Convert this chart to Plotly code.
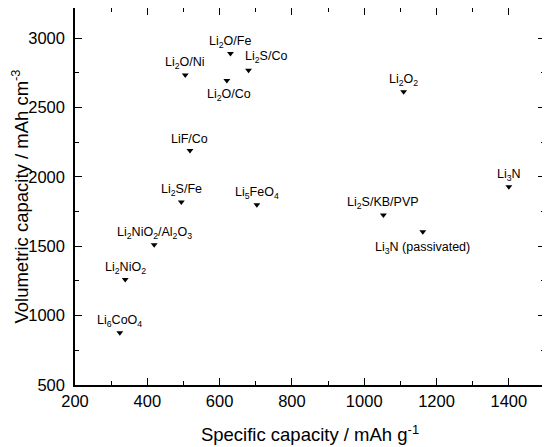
import plotly.graph_objects as go

# materials: specific capacity (mAh/g) vs volumetric capacity (mAh/cm3)
names = ['Li<sub>2</sub>O/Fe', 'Li<sub>2</sub>S/Co', 'Li<sub>2</sub>O/Ni', 'Li<sub>2</sub>O/Co',
         'LiF/Co', 'Li<sub>2</sub>S/Fe', 'Li<sub>5</sub>FeO<sub>4</sub>',
         'Li<sub>2</sub>NiO<sub>2</sub>/Al<sub>2</sub>O<sub>3</sub>', 'Li<sub>2</sub>NiO<sub>2</sub>',
         'Li<sub>6</sub>CoO<sub>4</sub>', 'Li<sub>2</sub>O<sub>2</sub>', 'Li<sub>3</sub>N',
         'Li<sub>2</sub>S/KB/PVP', 'Li<sub>3</sub>N (passivated)']
spec_cap = [630, 680, 505, 620, 518, 494, 703, 419, 339, 324, 1109, 1400, 1053, 1162]
vol_cap = [2890, 2770, 2735, 2695, 2190, 1820, 1800, 1512, 1260, 877, 2615, 1930, 1725, 1605]

# label placement (px) relative to each marker: (xshift, yshift)
label_shift = {
    'Li<sub>2</sub>S/Co': (17, 13),
    'Li<sub>2</sub>O/Co': (2, -14),
    'Li<sub>3</sub>N (passivated)': (0, -16),
}

FONT = 'Arial, Liberation Sans, sans-serif'

fig = go.Figure()
fig.add_trace(go.Scatter(
    x=spec_cap, y=vol_cap, mode='markers',
    marker=dict(symbol='triangle-down', size=6, color='black'),
    showlegend=False, hoverinfo='skip'))

for n, xv, yv in zip(names, spec_cap, vol_cap):
    dx, dy = label_shift.get(n, (0, 12))
    fig.add_annotation(x=xv, y=yv, text=n, showarrow=False,
                       xshift=dx, yshift=dy, xanchor='center', yanchor='middle',
                       font=dict(family=FONT, size=12.5, color='black'))

axis_style = dict(
    showline=True, linecolor='black', linewidth=1.5, mirror='allticks',
    ticks='inside', ticklen=7, tickwidth=1.3, tickcolor='black',
    showgrid=False, zeroline=False,
    tickfont=dict(family=FONT, size=16.5, color='black'),
)

fig.update_xaxes(range=[200, 1500], dtick=200, tick0=200,
                 minor=dict(dtick=100, ticks='inside', ticklen=4, tickcolor='black', tickwidth=1.3),
                 title=dict(text='Specific capacity / mAh g<sup>-1</sup>', standoff=20,
                            font=dict(family=FONT, size=18.5, color='black')),
                 **axis_style)
fig.update_yaxes(range=[500, 3218], dtick=500, tick0=500,
                 minor=dict(dtick=250, ticks='inside', ticklen=4, tickcolor='black', tickwidth=1.3),
                 ticklabelstandoff=5,
                 title=dict(text='Volumetric capacity / mAh cm<sup>-3</sup>', standoff=9,
                            font=dict(family=FONT, size=18.5, color='black')),
                 **axis_style)

# page body adds an 8px offset, margins compensate for it
fig.update_layout(width=550, height=447, plot_bgcolor='white', paper_bgcolor='white',
                  margin=dict(l=67, r=13, t=0, b=70, autoexpand=False),
                  font=dict(family=FONT, color='black'))

fig.write_html("out.html")
